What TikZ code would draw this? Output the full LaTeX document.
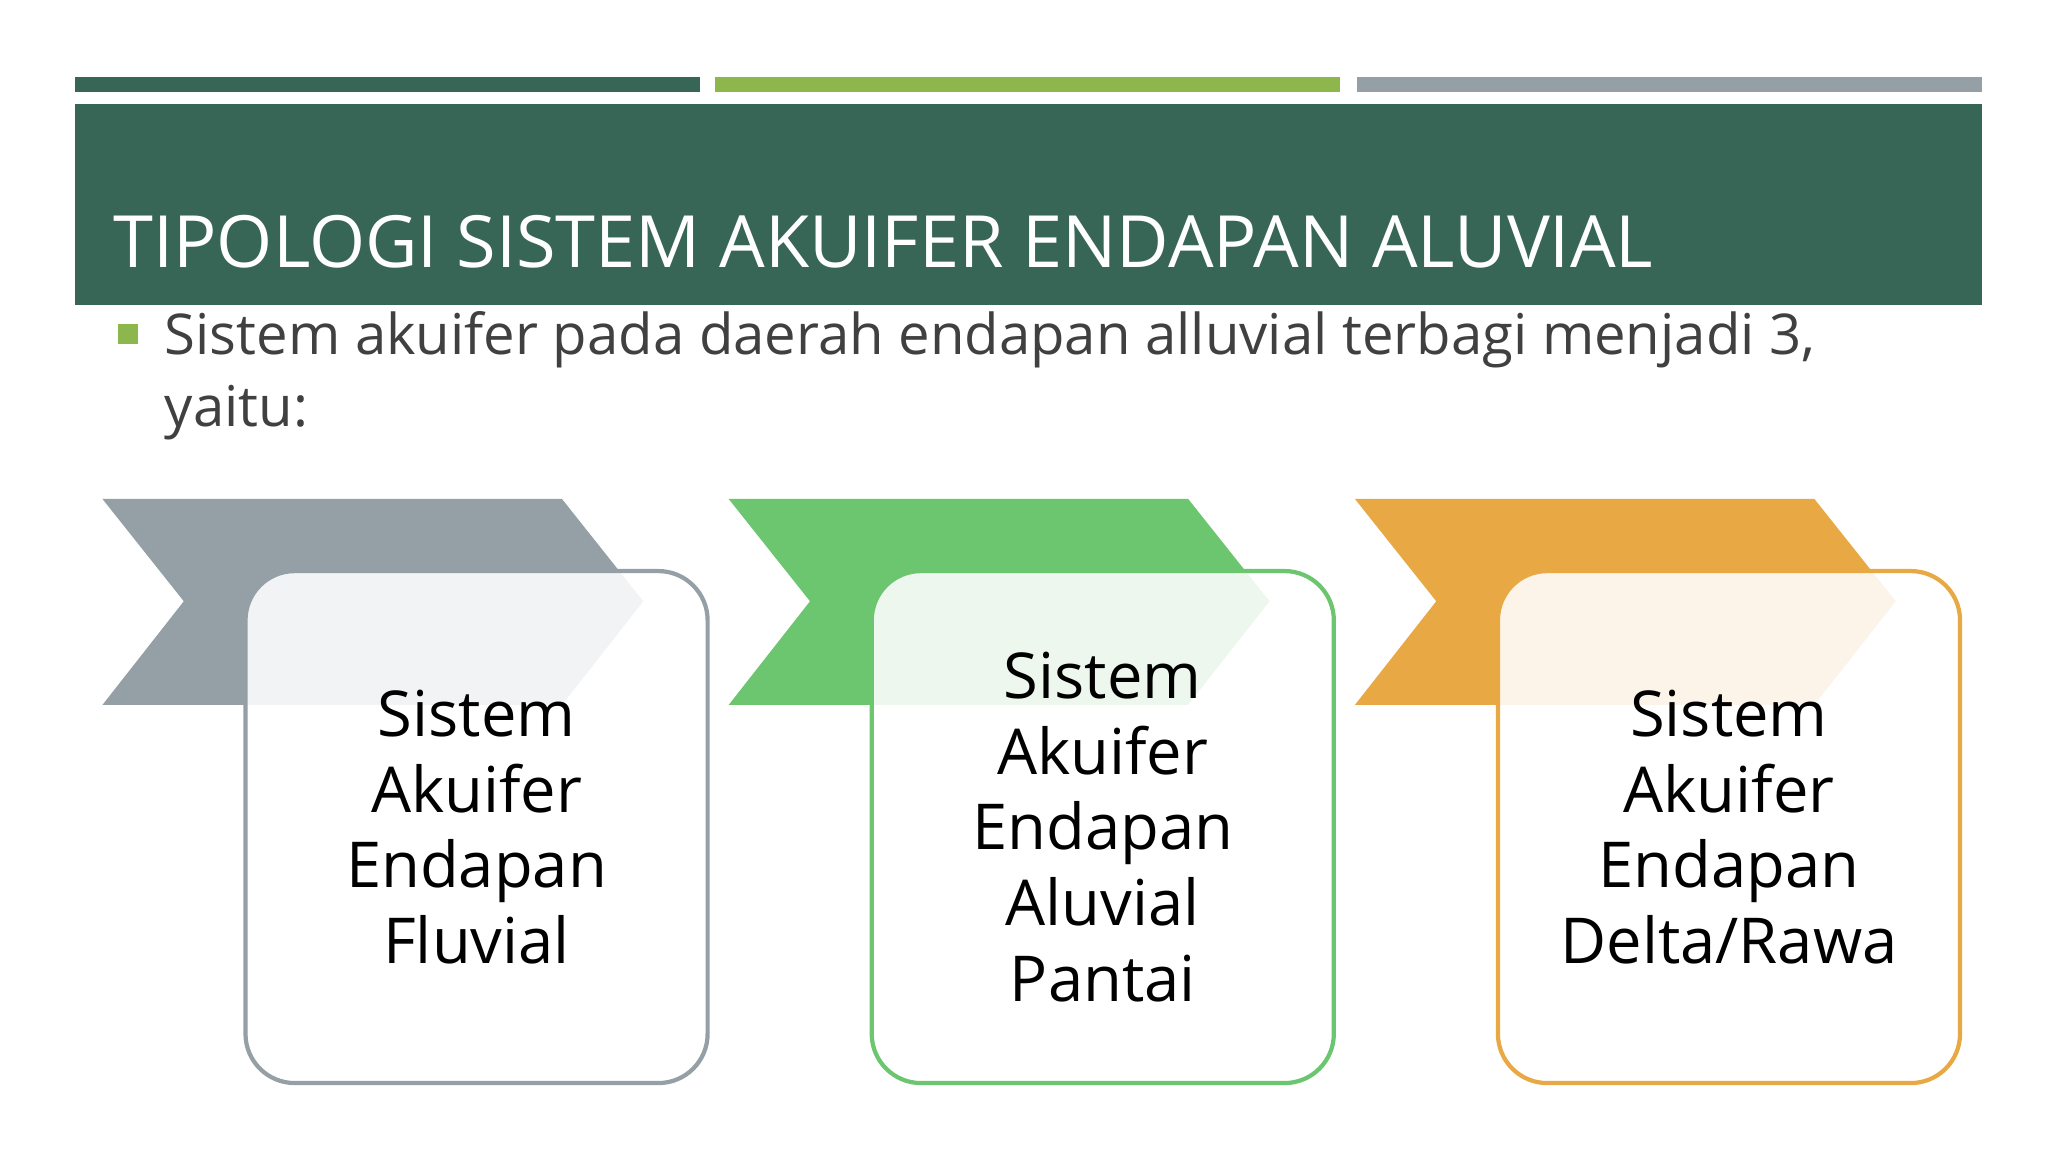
\documentclass[tikz,border=0pt]{standalone}
\usepackage{fontspec}
\setmainfont{Open Sans}
\begin{document}
\begin{tikzpicture}[x=0.013128cm,y=-0.013128cm,
  box/.style={draw,line width=1.2pt,fill=white,fill opacity=0.88,draw opacity=1,rounded corners=14pt},
  btxt/.style={align=center,font=\fontsize{18}{21.5}\selectfont,text=black},
  chev/.style={draw=none}]
\definecolor{dg}{HTML}{376656}\definecolor{lg}{HTML}{8DB64C}\definecolor{gr}{HTML}{959FA6}
\definecolor{cg}{HTML}{6CC56F}\definecolor{co}{HTML}{E8A844}\definecolor{tx}{HTML}{404040}
\useasboundingbox (0,0) rectangle (1560,878);
\fill[dg] (57,59) rectangle (533,70);
\fill[lg] (545,59) rectangle (1021,70);
\fill[gr] (1034,59) rectangle (1510,70);
\fill[dg] (57,79) rectangle (1510,232);
\node[anchor=base west,text=white,font=\fontsize{20.5}{24}\selectfont,inner sep=0] (title) at (86,204) {TIPOLOGI SISTEM AKUIFER ENDAPAN ALUVIAL};
\fill[lg] (90,247) rectangle (105,262);
\node[anchor=base west,text=tx,font=\fontsize{16}{21}\selectfont,inner sep=0,align=left] (bul) at (125,270) {Sistem akuifer pada daerah endapan alluvial terbagi menjadi 3,};
\node[anchor=base west,text=tx,font=\fontsize{16}{21}\selectfont,inner sep=0] (bul2) at (125,325) {yaitu:};
\foreach \dx/\c/\n [count=\i] in {0/gr/a,477/cg/b,954/co/c}{
  \fill[\c] (78+\dx,380) -- (428+\dx,380) -- (490+\dx,458) -- (428+\dx,537) -- (78+\dx,537) -- (140+\dx,458) -- cycle;
  \draw[box,draw=\c] (187+\dx,435) rectangle (539+\dx,825);
}
\node[btxt] (t1) at (363,630) {Sistem\\Akuifer\\Endapan\\Fluvial};
\node[btxt] (t2) at (840,630) {Sistem\\Akuifer\\Endapan\\Aluvial\\Pantai};
\node[btxt] (t3) at (1317,630) {Sistem\\Akuifer\\Endapan\\Delta/Rawa};
\end{tikzpicture}
\end{document}
